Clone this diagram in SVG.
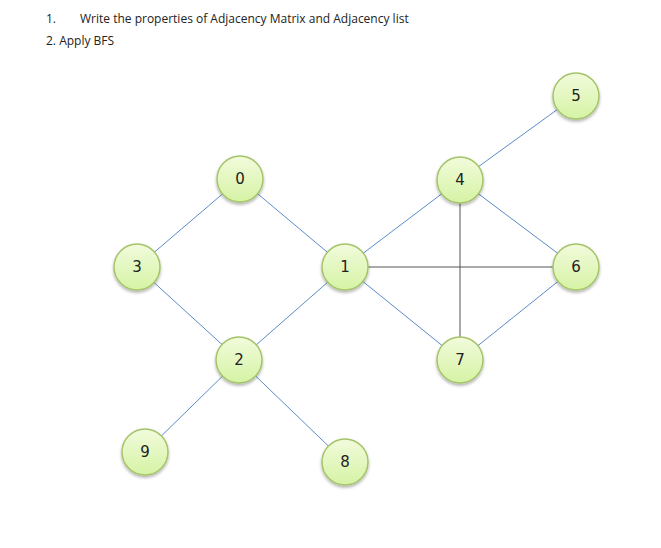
<svg xmlns="http://www.w3.org/2000/svg" width="661" height="548" viewBox="0 0 661 548">
<style>
.e{stroke:#5b8bc9;stroke-width:1}
.d{stroke:#555;stroke-width:1}
.n circle{fill:url(#g);stroke:#a5c46a;stroke-width:1.5;filter:url(#s)}
.n text{font-family:"DejaVu Sans",sans-serif;font-size:15px;fill:#222;text-anchor:middle;dominant-baseline:central}
.h{font-family:"Open Sans","Liberation Sans",sans-serif;font-size:12px;fill:#222}
</style>
<defs>
<linearGradient id="g" x1="0" y1="0" x2="0" y2="1"><stop offset="0" stop-color="#f2fbdc"/><stop offset="1" stop-color="#d5f3a4"/></linearGradient>
<filter id="s" x="-30%" y="-30%" width="160%" height="170%"><feDropShadow dx="0" dy="2" stdDeviation="1.5" flood-color="#000" flood-opacity="0.3"/></filter>
</defs>
<rect width="661" height="548" fill="#fff"/>
<text class="h" x="46" y="23">1.</text>
<text class="h" x="80" y="23">Write the properties of Adjacency Matrix and Adjacency list</text>
<text class="h" x="46" y="45">2.  Apply BFS</text>
<g id="connectors">
<line class="e" x1="240" y1="179" x2="137" y2="267"/>
<line class="e" x1="240" y1="179" x2="345" y2="267"/>
<line class="e" x1="137" y1="267" x2="239" y2="360"/>
<line class="e" x1="239" y1="360" x2="345" y2="267"/>
<line class="e" x1="239" y1="360" x2="145" y2="452"/>
<line class="e" x1="239" y1="360" x2="345" y2="462"/>
<line class="e" x1="345" y1="267" x2="460" y2="180"/>
<line class="d" x1="345" y1="267" x2="576" y2="267"/>
<line class="e" x1="345" y1="267" x2="460" y2="360"/>
<line class="e" x1="460" y1="180" x2="576" y2="96"/>
<line class="e" x1="460" y1="180" x2="576" y2="267"/>
<line class="d" x1="460" y1="180" x2="460" y2="360"/>
<line class="e" x1="576" y1="267" x2="460" y2="360"/>
</g>
<g id="n0" class="n"><circle cx="240" cy="179" r="23"/><text x="240" y="179">0</text></g>
<g id="n1" class="n"><circle cx="345" cy="267" r="23"/><text x="345" y="267">1</text></g>
<g id="n2" class="n"><circle cx="239" cy="360" r="23"/><text x="239" y="360">2</text></g>
<g id="n3" class="n"><circle cx="137" cy="267" r="23"/><text x="137" y="267">3</text></g>
<g id="n4" class="n"><circle cx="460" cy="180" r="23"/><text x="460" y="180">4</text></g>
<g id="n5" class="n"><circle cx="576" cy="96" r="23"/><text x="576" y="96">5</text></g>
<g id="n6" class="n"><circle cx="576" cy="267" r="23"/><text x="576" y="267">6</text></g>
<g id="n7" class="n"><circle cx="460" cy="360" r="23"/><text x="460" y="360">7</text></g>
<g id="n8" class="n"><circle cx="345" cy="462" r="23"/><text x="345" y="462">8</text></g>
<g id="n9" class="n"><circle cx="145" cy="452" r="23"/><text x="145" y="452">9</text></g>
</svg>
